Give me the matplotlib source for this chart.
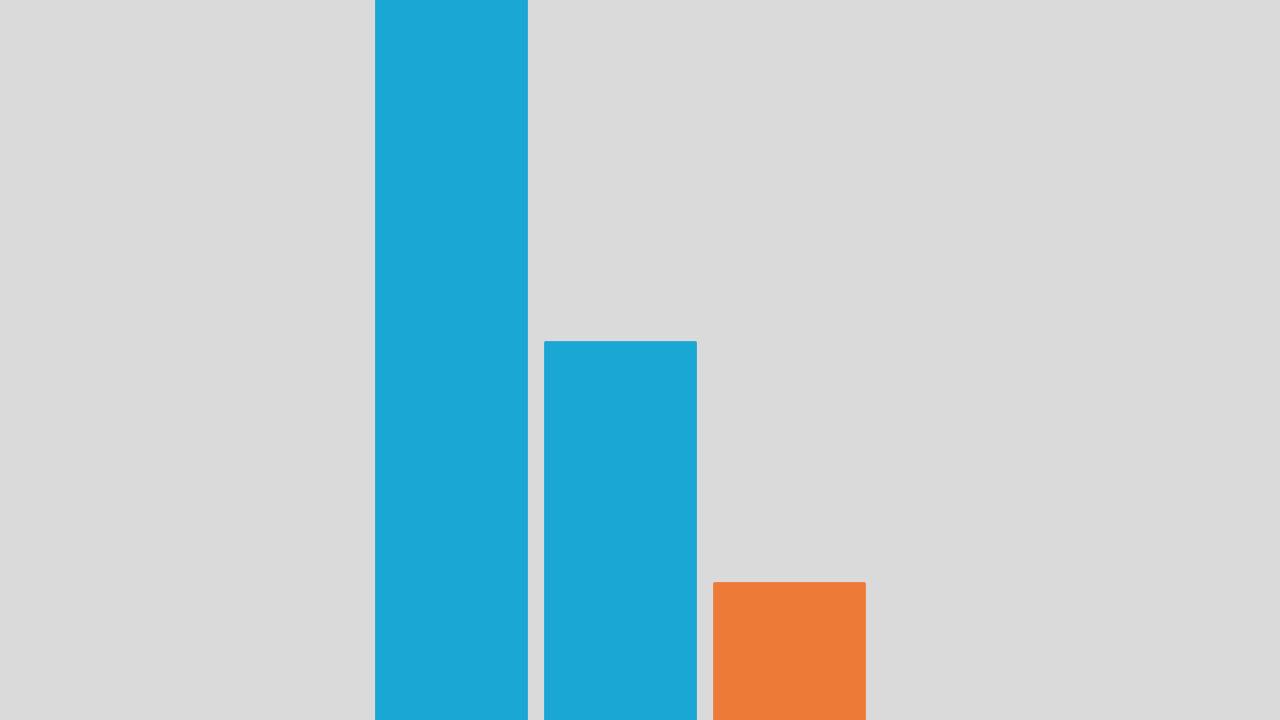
import matplotlib
matplotlib.use("Agg")
import matplotlib.pyplot as plt

# values (first bar runs past the top edge)
categories = ["A", "B", "C"]
values = [7.6, 3.78, 1.37]
colors = ["#1ba7d4", "#1ba7d4", "#ee7a38"]

bg = "#dadada"

fig = plt.figure(figsize=(12.8, 7.2), dpi=100, facecolor=bg)
ax = fig.add_axes([0, 0, 1, 1])
ax.set_facecolor(bg)

x = list(range(len(categories)))
bars = ax.bar(x, values, width=0.89, color=colors, edgecolor=colors,
              linewidth=2, joinstyle="round")

ax.set_xlim(-2.669, 4.905)
ax.set_ylim(0, 7.2)
ax.axis("off")

fig.savefig("out.png", dpi=100, facecolor=bg)
